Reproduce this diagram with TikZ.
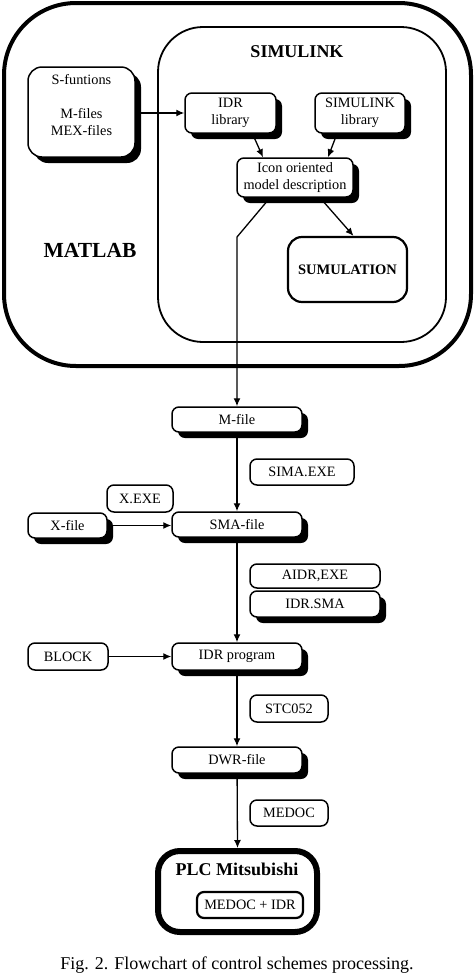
\documentclass[tikz,border=0pt]{standalone}
\usepackage{fontspec}
\setmainfont{Liberation Serif}
\usetikzlibrary{arrows.meta}
\usetikzlibrary{shadows}

\tikzset{
  flowbox/.style={draw, line width=1.5pt, rounded corners=7pt, fill=white, inner sep=0pt,
    align=center, font=\fontsize{14.3}{17.4}\selectfont},
  shadowbox/.style={flowbox, general shadow={fill=black, shadow xshift=6pt, shadow yshift=-6pt}},
  flowarrow/.style={-{Latex[length=8pt,width=7pt]}, line width=1.3pt},
  boldlabel/.style={font=\bfseries\fontsize{#1}{#1}\selectfont, inner sep=0pt},
}

\begin{document}
\begin{tikzpicture}[x=1pt, y=-1pt]
\newcommand\colx{237}
\newcommand\colw{130}
\newcommand\sidex{289}
\useasboundingbox (0,0) rectangle (474,975);

% MATLAB frame
\node[draw, line width=4pt, rounded corners=72pt, minimum width=467, minimum height=363] (matlab) at (237.5,184.5) {};
\node[boldlabel=21.5] (matlabtitle) at (90,250) {MATLAB};
% SIMULINK frame
\node[draw, line width=1.8pt, rounded corners=45pt, minimum width=288, minimum height=315] (simulink) at (302,184.5) {};
\node[boldlabel=18] (simulinktitle) at (297,52) {SIMULINK};

% boxes inside MATLAB
\node[shadowbox, rounded corners=14pt, minimum width=107, minimum height=90] (sfun) at (81.5,112) {};
\node[align=center, inner sep=0pt, font=\fontsize{14.3}{17.4}\selectfont] (sfuntext) at (81.5,105) {S-funtions\\[17pt]M-files\\MEX-files};
\node[shadowbox, minimum width=91, minimum height=40] (idrlib) at (230.5,113) {IDR\\library};
\node[shadowbox, minimum width=90, minimum height=40] (simlib) at (360,113) {SIMULINK\\library};
\node[shadowbox, minimum width=116, minimum height=39] (icon) at (295,177.5) {Icon oriented\\model description};
\node[flowbox, line width=2.2pt, rounded corners=14pt, minimum width=119, minimum height=65,
  font=\bfseries\fontsize{14.5}{17}\selectfont] (sim) at (347.5,269.5) {SUMULATION};

% arrows inside MATLAB
\draw[flowarrow] (sfun.east |- idrlib) -- (idrlib.west);
\draw[flowarrow] ([xshift=22pt]idrlib.south) -- ([xshift=-32pt]icon.north);
\draw[flowarrow] ([xshift=-23pt]simlib.south) -- ([xshift=33pt]icon.north);
\draw[flowarrow] ([xshift=25pt]icon.south) -- ([xshift=6pt]sim.north);

% main column
\node[shadowbox, minimum width=\colw, minimum height=25] (mfile) at (\colx,419.5) {M-file};
\node[flowbox, minimum width=104, minimum height=26] (simaexe) at (302,472) {SIMA.EXE};
\node[flowbox, minimum width=66, minimum height=27] (xexe) at (140,498.5) {X.EXE};
\node[shadowbox, minimum width=79, minimum height=25] (xfile) at (67.5,525.5) {X-file};
\node[shadowbox, minimum width=\colw, minimum height=25] (sma) at (\colx,524.5) {SMA-file};
\node[shadowbox, minimum width=130, minimum height=26] (idrsma) at (315,604) {IDR.SMA};
\node[flowbox, minimum width=130, minimum height=24] (aidr) at (315,576) {AIDR,EXE};
\node[flowbox, minimum width=80, minimum height=27] (block) at (68,656.5) {BLOCK};
\node[shadowbox, minimum width=\colw, minimum height=27] (idrprog) at (\colx,656.5) {IDR program};
\node[flowbox, minimum width=78, minimum height=27] (stc) at (\sidex,708.5) {STC052};
\node[shadowbox, minimum width=\colw, minimum height=26] (dwr) at (\colx,760) {DWR-file};
\node[flowbox, minimum width=78, minimum height=26] (medoc) at (\sidex,813) {MEDOC};

% PLC
\node[draw, line width=6pt, rounded corners=22pt, minimum width=159, minimum height=81] (plc) at (237.5,891.5) {};
\node[boldlabel=18] (plctitle) at (\colx,869) {PLC Mitsubishi};
\node[flowbox, line width=2.2pt, minimum width=106, minimum height=26] (medocidr) at (250,905) {MEDOC + IDR};

% arrows of the main column
\coordinate (bend) at (\colx,237);
\draw[flowarrow] ([xshift=-25pt]icon.south) -- (bend) -- (mfile.north);
\draw[flowarrow] (mfile) -- (sma);
\draw[flowarrow] (xfile.east) -- (xfile.east -| sma.west);
\draw[flowarrow] (sma) -- (idrprog);
\draw[flowarrow] (block) -- (idrprog);
\draw[flowarrow] (idrprog) -- (dwr);
\draw[flowarrow] (dwr) -- (plc.north);

% caption
\node[font=\fontsize{18}{20}\selectfont] (caption) at (237,965) {Fig. 2. Flowchart of control schemes processing.};
\end{tikzpicture}
\end{document}
